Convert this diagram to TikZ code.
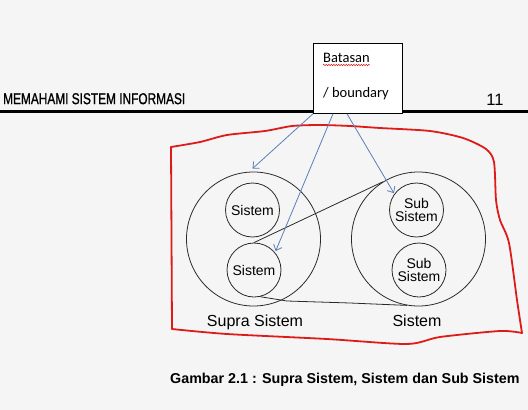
\documentclass[tikz,border=0pt]{standalone}
\usepackage{fontspec}
\setmainfont{Liberation Sans}
\newfontfamily\calfont{Carlito}
\newfontfamily\hdrfont[FakeBold=1.2]{Liberation Sans}
\usetikzlibrary{arrows.meta,decorations.pathmorphing,calc}
\definecolor{bg}{HTML}{F5F5F5}
\definecolor{redline}{HTML}{DD1C1A}
\definecolor{arrowblue}{HTML}{5A7FB8}
\definecolor{ink}{HTML}{2A2A2A}
\tikzset{
  bigc/.style={circle, draw=ink, line width=0.8pt, minimum size=134pt, inner sep=0pt},
  smallc/.style={circle, draw=ink, line width=0.8pt, minimum size=54pt, inner sep=0pt, align=center,
    font=\fontsize{14}{14.5}\selectfont},
  lbl/.style={anchor=base, inner sep=0pt, font=\fontsize{16}{16}\selectfont},
  barrow/.style={draw=arrowblue, line width=0.8pt, -{Straight Barb[length=5pt,width=9pt]}},
  blink/.style={draw=ink, line width=0.8pt},
  boundary/.style={draw=redline, line width=1.8pt, line join=round, line cap=round}
}
\begin{document}
\begin{tikzpicture}[x=1pt,y=-1pt]
\fill[bg] (0,0) rectangle (528,410);
\useasboundingbox (0,0) rectangle (528,410);

% header
\node[anchor=south west, inner sep=0pt] (hdr) at (3,104.5) {\resizebox{182pt}{11pt}{\hdrfont MEMAHAMI SISTEM INFORMASI}};
\node[anchor=base, inner sep=0pt, font=\fontsize{16.5}{16.5}\selectfont] (pg) at (495,105) {11};
\draw[line width=3pt] (0,111.5) -- (528,111.5);

% boundary label box
\node[draw, fill=white, line width=0.8pt, minimum width=89pt, minimum height=70pt, anchor=north west, inner sep=0pt] (box) at (313,43) {};
\node[anchor=base west, inner sep=0pt, font=\calfont\fontsize{14.5}{14.5}\selectfont] (bat) at (323,62) {Batasan};
\node[anchor=base west, inner sep=0pt, font=\calfont\fontsize{14.5}{14.5}\selectfont] (bnd) at (323,97) {/ boundary};
\draw[redline, line width=0.5pt, decorate, decoration={snake, amplitude=0.7pt, segment length=2.5pt}]
  ($(bat.base west)+(0,3)$) -- ($(bat.base east)+(0,3)$);

% red hand-drawn boundary
\draw[boundary] plot[smooth, tension=0.45] coordinates {(171,147) (200,142) (227,135) (265,131) (292,126) (320,125) (350,126) (380,128) (430,131) (463,138) (486,149) (494,162) (496,200) (500,220) (509,243) (517,300) (522,333)};
\draw[boundary] plot[smooth, tension=0.45] coordinates {(522,333) (500,331) (440,337) (407,344) (327,339) (227,334) (172,329)};
\draw[boundary] (172,329) -- (171,147);

% circles
\node[bigc] (supra) at (253.5,239) {};
\node[bigc] (sistem) at (418.5,239) {};
\node[smallc] (sis1) at (252.5,210) {Sistem};
\node[smallc] (sis2) at (254,270) {Sistem};
\node[smallc] (sub1) at (416.5,210) {Sub\\[-1pt]Sistem};
\node[smallc] (sub2) at (419,270) {Sub\\[-1pt]Sistem};

\node[lbl] (lsupra) at (255,326) {Supra Sistem};
\node[lbl] (lsistem) at (417,326) {Sistem};

% black links
\draw[blink] (sis2.north) -- (sistem.122);
\draw[blink] (sis2.283) -- (287,301) -- (350,303) -- (sistem.260);

% blue arrows
\draw[barrow] (box.south west) -- ($(supra.north)+(-1,-3)$);
\draw[barrow] ($(box.south west)+(20,0)$) -- ($(sis2.41)+(1,-1)$);
\draw[barrow] ($(box.south west)+(34,0)$) -- ($(sub1.142)+(-1,0)$);

% caption
\node[anchor=base west, inner sep=0pt, font=\bfseries\fontsize{14.3}{14.3}\selectfont] (cap) at (170,383) {Gambar 2.1 : Supra Sistem, Sistem dan Sub Sistem};
\end{tikzpicture}
\end{document}
